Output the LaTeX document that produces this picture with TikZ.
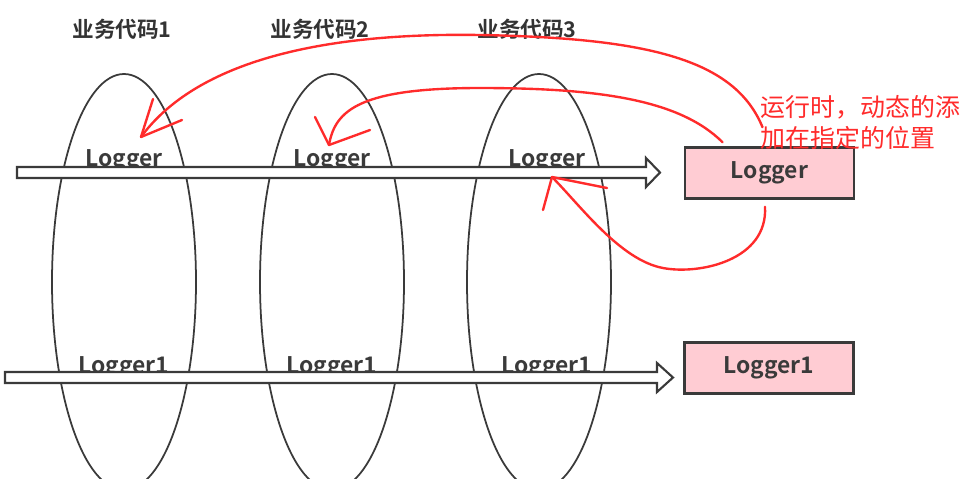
\documentclass[tikz,border=0pt]{standalone}
\usepackage{fontspec}
\setmainfont{Noto Sans CJK SC}[BoldFont={Noto Sans CJK SC Bold}]
\definecolor{inkgray}{HTML}{3A3A3A}
\definecolor{boxpink}{HTML}{FFCCD3}
\definecolor{penred}{HTML}{FF2B2B}
\begin{document}
\begin{tikzpicture}[
			x=0.02cm,y=-0.02cm,
			every node/.style={font=\bfseries\fontsize{13}{15}\selectfont,text=inkgray,inner sep=0pt},
			title/.style={font=\bfseries\fontsize{12.3}{14}\selectfont,text=black!80},
			logbox/.style={draw=inkgray,fill=boxpink,line width=1.5pt,minimum width=3.38cm,minimum height=1.02cm},
			note/.style={font=\fontsize{14.2}{17}\selectfont,text=penred,anchor=base west},
			pen/.style={draw=penred,line width=1.35pt,line cap=round,line join=round},
			declare function={
				ecy=282;
				erx=72;
				ery=208;
				aw=5.5;
				ah=14.5;
			}
			]
			\useasboundingbox[fill=white] (0,0) rectangle (970,478);
			% the three code blocks
			\begin{scope}
				\clip (0,0) rectangle (970,478);
				\foreach \cx in {124,332,539}
					\draw[inkgray,line width=1pt] (\cx,{ecy}) ellipse [x radius={erx},y radius={ery}];
			\end{scope}
			\node[title] (t1) at (122,29) {业务代码1};
			\node[title] (t2) at (320,29) {业务代码2};
			\node[title] (t3) at (527,29) {业务代码3};
			% labels on the two flows
			\node[anchor=base] (lg1) at (124,166) {Logger};
			\node[anchor=base] (lg2) at (332,166) {Logger};
			\node[anchor=base] (lg3) at (547,166) {Logger};
			\node[anchor=base] (lh1) at (124,373) {Logger1};
			\node[anchor=base] (lh2) at (332,373) {Logger1};
			\node[anchor=base] (lh3) at (547,373) {Logger1};
			\def\hollowarrow#1#2#3#4{
				\draw[draw=inkgray,fill=white,line width=1.2pt,line join=miter]
				(#1,{#4-aw}) -- (#2,{#4-aw}) -- (#2,{#4-ah}) --
				(#3,#4) --
				(#2,{#4+ah}) -- (#2,{#4+aw}) -- (#1,{#4+aw}) -- cycle;
			}
			\hollowarrow{17}{646}{660}{172.5}
			\hollowarrow{5}{657}{673}{377.5}
			\node[logbox] (box1) at (769.5,173) {Logger};
			\node[logbox] (box2) at (769,368) {Logger1};
			% red hand notes
			\coordinate (srcA) at ([shift={(-7,-19)}]box1.north);
			\coordinate (srcB) at ([shift={(-47,-4)}]box1.north);
			\coordinate (srcC) at ([shift={(-4.5,7)}]box1.south);
			\coordinate (tipA) at (141,137);
			\coordinate (tipB) at (329,145);
			\coordinate (tipC) at (552,177);
			\draw[pen] (srcA) .. controls (735,60) and (650,38) .. (480,35)
				.. controls (300,32) and (190,70) .. (tipA);
			\draw[pen] (tipA) ++(12,-38) -- (tipA) -- ++(41,-17);
			\draw[pen] (srcB) .. controls (680,100) and (600,88) .. (480,88)
				.. controls (360,88) and (335,110) .. (tipB);
			\draw[pen] (tipB) ++(-14,-28) -- (tipB) -- ++(41,-15);
			\draw[pen] (srcC) .. controls (768,260) and (700,275) .. (663,268)
				.. controls (620,260) and (580,205) .. (tipC);
			\draw[pen] (tipC) ++(-9,33) -- (tipC) -- ++(55,11);
			\node[note] (n1) at (760,116.5) {运行时，动态的添};
			\node[note] (n2) at (760,147.5) {加在指定的位置};
		\end{tikzpicture}
\end{document}
